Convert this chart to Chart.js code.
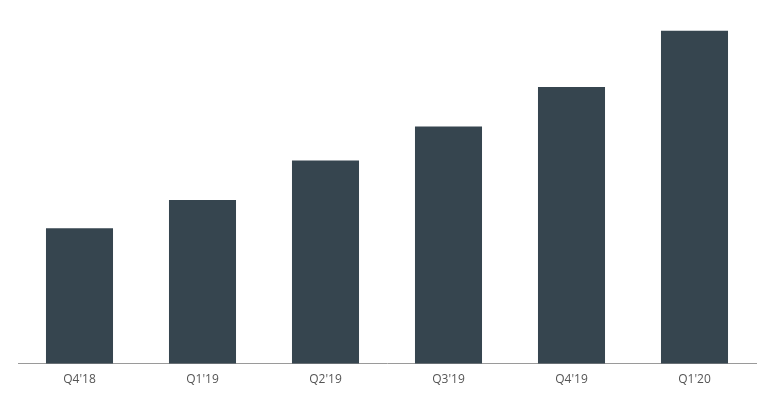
<!DOCTYPE html>
<html>
<head>
<meta charset="utf-8">
<script src="https://cdn.jsdelivr.net/npm/chart.js@4"></script>
<style>
  body { margin: 0; background: #fff; }
</style>
</head>
<body>
<canvas id="barChart" width="768" height="400"></canvas>
<script>
// Dữ liệu biểu đồ
const categories = ["Q4'18", "Q1'19", "Q2'19", "Q3'19", "Q4'19", "Q1'20"];
const values = [2.64, 2.69, 2.76, 2.82, 2.89, 2.99];

// Nhãn giá trị ở giữa cột
const valueLabels = {
    id: 'valueLabels',
    afterDatasetsDraw(chart) {
        const ctx = chart.ctx;
        const meta = chart.getDatasetMeta(0);
        ctx.save();
        ctx.fillStyle = '#ffffff';
        ctx.font = 'bold 12px "Open Sans", sans-serif';
        ctx.textAlign = 'center';
        ctx.textBaseline = 'middle';
        meta.data.forEach((bar, i) => {
            ctx.fillText(values[i].toFixed(2), bar.x, (bar.y + bar.base) / 2);
        });
        ctx.restore();
    }
};

const ctx = document.getElementById('barChart').getContext('2d');
new Chart(ctx, {
    type: 'bar',
    data: {
        labels: categories,
        datasets: [{
            data: values,
            backgroundColor: '#36454f',
            barPercentage: 0.545,
            categoryPercentage: 1.0
        }]
    },
    options: {
        responsive: false,
        animation: false,
        layout: { padding: { left: 18, right: 12, top: 25, bottom: 4 } },
        plugins: { legend: { display: false }, tooltip: { enabled: false } },
        scales: {
            y: { display: false, min: 2.4, max: 3.0 },
            x: {
                grid: { display: false, drawTicks: false },
                border: { color: '#9a9a9a', width: 1 },
                ticks: {
                    color: '#555',
                    padding: 9,
                    font: { size: 12, family: '"Open Sans", sans-serif' }
                }
            }
        }
    },
    plugins: [valueLabels]
});
</script>
</body>
</html>
